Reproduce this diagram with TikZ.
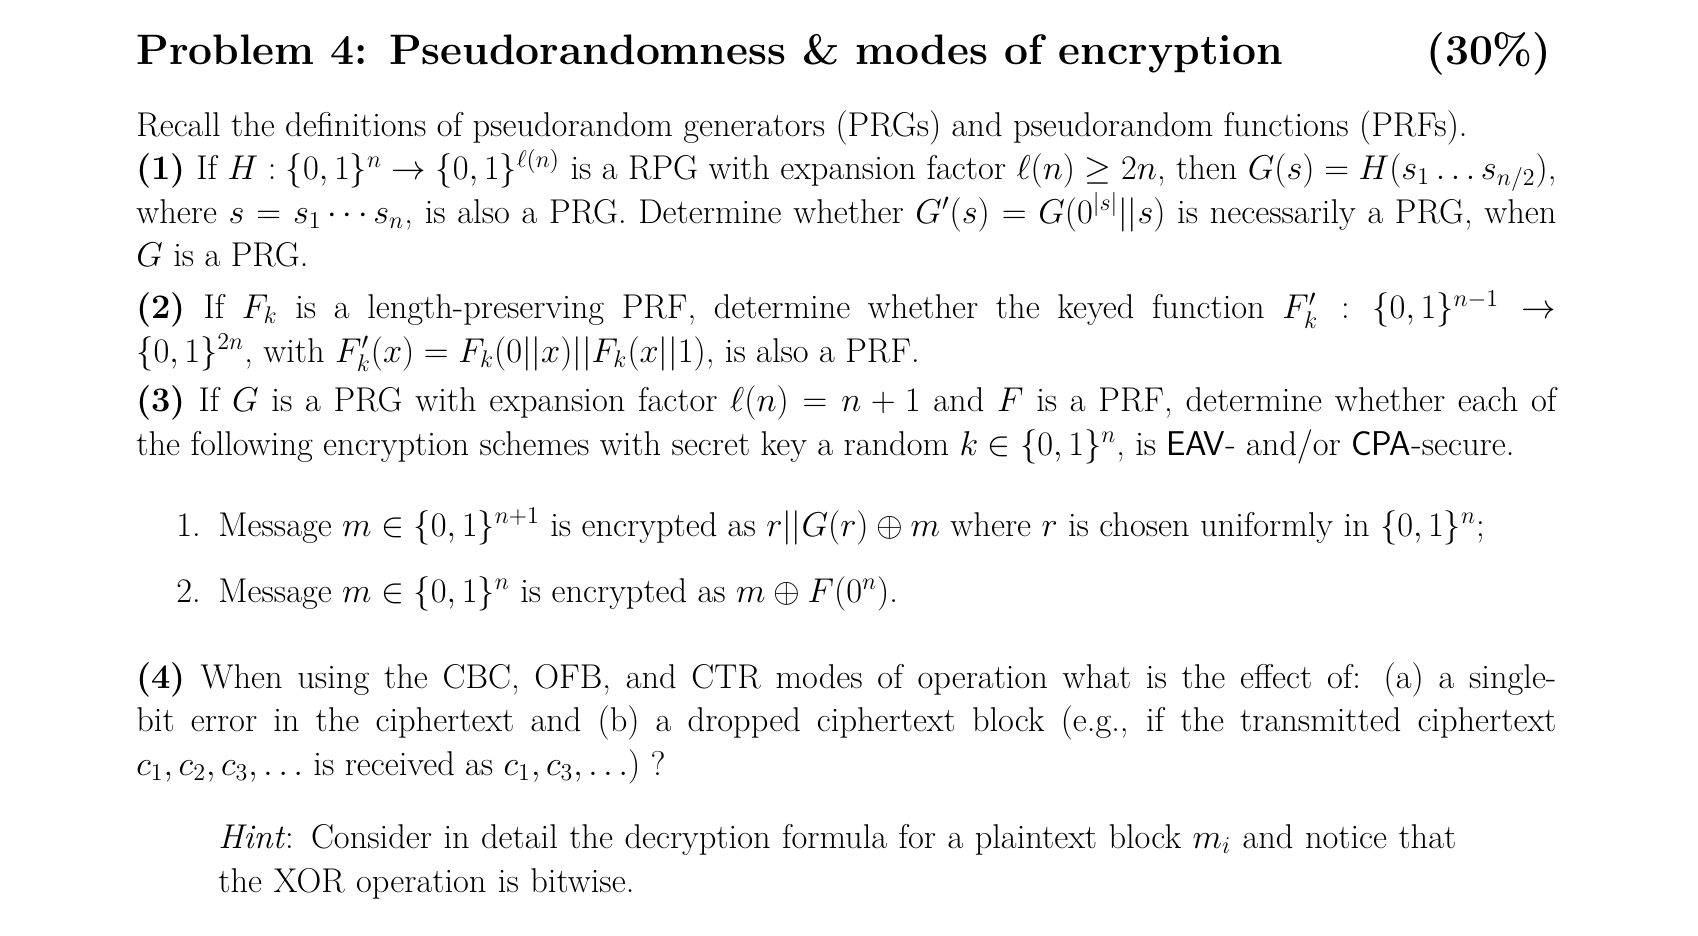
\documentclass[tikz,border=0pt]{standalone}
\usepackage{fix-cm}
\usepackage{amsmath,amssymb}
\begin{document}
\begin{tikzpicture}[x=1pt,y=1pt,
  txt/.style={anchor=north west,inner sep=0pt,align=justify,font=\fontsize{17.2}{21.8}\selectfont}]
\useasboundingbox (0,0) rectangle (849,-468);
\node[anchor=west,inner sep=0pt,font=\fontsize{21.3}{24}\selectfont\bfseries] (title) at (68,-27) {Problem 4: Pseudorandomness \& modes of encryption};
\node[anchor=east,inner sep=0pt,font=\fontsize{21.3}{24}\selectfont\bfseries] (pct) at (776,-27) {(30\%)};
\node[txt,text width=710pt] (p0) at (68,-55) {Recall the definitions of pseudorandom generators (PRGs) and pseudorandom functions (PRFs).\\
\textbf{(1)} If $H:\{0,1\}^n\to\{0,1\}^{\ell(n)}$ is a RPG with expansion factor $\ell(n)\ge 2n$, then $G(s)=H(s_1\ldots s_{n/2})$, where $s=s_1\cdots s_n$, is also a PRG. Determine whether $G'(s)=G(0^{|s|}||s)$ is necessarily a PRG, when\linebreak $G$ is a PRG.\par\vspace{4pt}
\textbf{(2)} If $F_k$ is a length-preserving PRF, determine whether the keyed function $F'_k:\{0,1\}^{n-1}\to$\linebreak $\{0,1\}^{2n}$, with $F'_k(x)=F_k(0||x)||F_k(x||1)$, is also a PRF.\par\vspace{3pt}
\textbf{(3)} If $G$ is a PRG with expansion factor $\ell(n)=n+1$ and $F$ is a PRF, determine whether each of\linebreak the following encryption schemes with secret key a random $k\in\{0,1\}^n$, is \textsf{EAV}- and/or \textsf{CPA}-secure.};
\node[txt,anchor=north west] (l1) at (88,-254) {\makebox[21pt][l]{1.}Message $m\in\{0,1\}^{n+1}$ is encrypted as $r||G(r)\oplus m$ where $r$ is chosen uniformly in $\{0,1\}^n$;};
\node[txt,anchor=north west] (l2) at (88,-288) {\makebox[21pt][l]{2.}Message $m\in\{0,1\}^n$ is encrypted as $m\oplus F(0^n)$.};
\node[txt,text width=710pt] (p4) at (68,-331) {\textbf{(4)} When using the CBC, OFB, and CTR modes of operation what is the effect of: (a) a single-\linebreak bit error in the ciphertext and (b) a dropped ciphertext block (e.g., if the transmitted ciphertext\linebreak $c_1,c_2,c_3,\ldots$ is received as $c_1,c_3,\ldots$) ?};
\node[txt,text width=640pt,align=left] (hint) at (109,-412) {\textit{Hint}: Consider in detail the decryption formula for a plaintext block $m_i$ and notice that\\ the XOR operation is bitwise.};
\end{tikzpicture}
\end{document}
